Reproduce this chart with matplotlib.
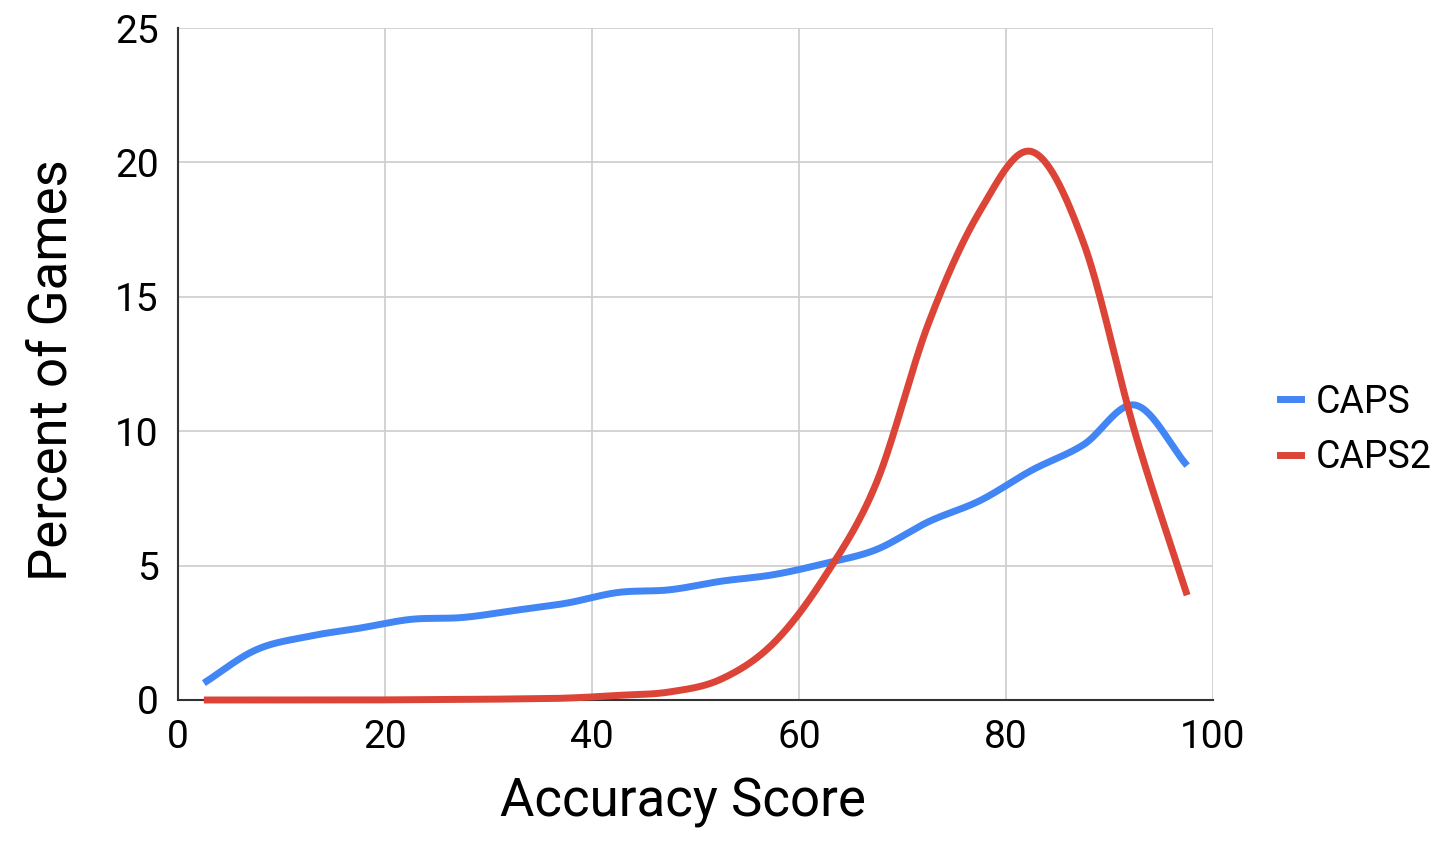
import numpy as np
import matplotlib
matplotlib.use("Agg")
import matplotlib.pyplot as plt
from matplotlib.lines import Line2D

accuracy = [2.5, 7.5, 12.5, 17.5, 22.5, 27.5, 32.5, 37.5, 42.5, 47.5,
            52.5, 57.5, 62.5, 67.5, 72.5, 77.5, 82.5, 87.5, 92.5, 97.5]
caps = [0.63, 1.86, 2.36, 2.67, 3.0, 3.07, 3.33, 3.6, 4.0, 4.1,
        4.42, 4.66, 5.08, 5.6, 6.63, 7.42, 8.55, 9.5, 10.97, 8.72]
caps2 = [0.0, 0.0, 0.0, 0.0, 0.01, 0.02, 0.04, 0.07, 0.17, 0.3,
         0.78, 2.1, 4.6, 8.1, 14.0, 18.2, 20.4, 17.0, 9.9, 3.9]
series_names = ["CAPS", "CAPS2"]
colors = ["#4285F4", "#DB4437"]


def catmull_rom(x, y, n=30):
    x = np.asarray(x, float)
    y = np.asarray(y, float)
    px = np.concatenate([[2 * x[0] - x[1]], x, [2 * x[-1] - x[-2]]])
    py = np.concatenate([[2 * y[0] - y[1]], y, [2 * y[-1] - y[-2]]])
    xs, ys = [], []
    for i in range(1, len(px) - 2):
        t = np.linspace(0, 1, n, endpoint=False)
        p0, p1, p2, p3 = py[i - 1], py[i], py[i + 1], py[i + 2]
        q0, q1, q2, q3 = px[i - 1], px[i], px[i + 1], px[i + 2]
        def h(a0, a1, a2, a3):
            return 0.5 * ((2 * a1) + (-a0 + a2) * t
                          + (2 * a0 - 5 * a1 + 4 * a2 - a3) * t ** 2
                          + (-a0 + 3 * a1 - 3 * a2 + a3) * t ** 3)
        xs.append(h(q0, q1, q2, q3))
        ys.append(h(p0, p1, p2, p3))
    xs.append([x[-1]])
    ys.append([y[-1]])
    return np.concatenate(xs), np.concatenate(ys)


plt.rcParams['font.family'] = ['Roboto', 'DejaVu Sans']

fig = plt.figure(figsize=(14.56, 8.55), dpi=100)
ax = fig.add_axes([178 / 1456, 1 - 700 / 855, (1213 - 178) / 1456, (700 - 28) / 855])

for vals, name, c in zip([caps, caps2], series_names, colors):
    sx, sy = catmull_rom(accuracy, vals)
    ax.plot(sx, sy, color=c, lw=5, solid_capstyle='butt', label=name, zorder=3, clip_on=False)

ax.set_xlim(0, 100)
ax.set_ylim(0, 25)
ax.set_xticks([0, 20, 40, 60, 80, 100])
ax.set_yticks([0, 5, 10, 15, 20, 25])
ax.grid(True, color='#cccccc', lw=1.2)
ax.set_axisbelow(True)
for s in ['top', 'right']:
    ax.spines[s].set_visible(False)
for s in ['left', 'bottom']:
    ax.spines[s].set_color('#333333')
    ax.spines[s].set_linewidth(1.5)
ax.tick_params(length=0, labelsize=28, pad=14)
ax.set_xlabel("Accuracy Score", fontsize=38)
ax.xaxis.set_label_coords((683 - 178) / (1213 - 178), -(803 - 700) / (700 - 28))
ax.xaxis.label.set_va('center')
ax.set_ylabel("Percent of Games", fontsize=38)
ax.yaxis.set_label_coords(-(178 - 52) / (1213 - 178), (700 - 370) / (700 - 28))
ax.yaxis.label.set_va('center')

handles = [Line2D([0], [0], color=c, lw=5) for c in colors]
fig.legend(handles, series_names, loc='center left', bbox_to_anchor=(1280 / 1456, 1 - 430 / 855),
           frameon=False, fontsize=27, handlelength=0.55, handletextpad=0.4, labelspacing=0.5,
           borderpad=0, borderaxespad=0)

fig.savefig("out.png", dpi=100, facecolor='white')
